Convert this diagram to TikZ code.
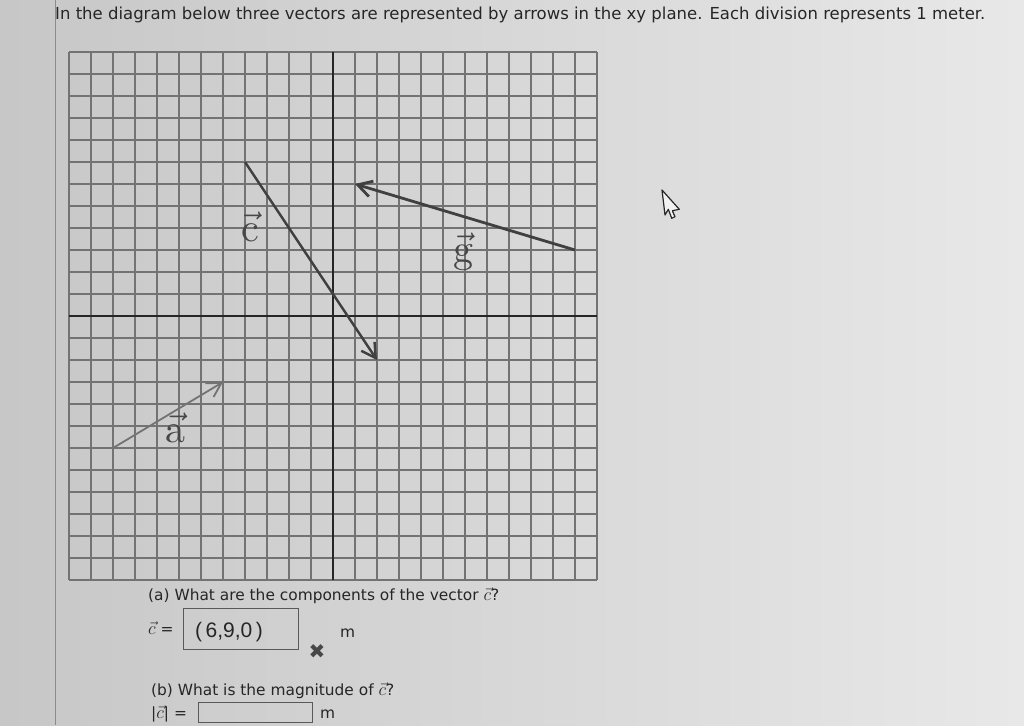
\documentclass[tikz,border=0pt]{standalone}
\usepackage{fontspec}
\usepackage{amsmath}
\usepackage{graphicx}
\usetikzlibrary{arrows.meta}
\newfontfamily\qfont{DejaVu Sans}
\newfontfamily\numfont{Liberation Sans}

\begin{document}
\begin{tikzpicture}[x=1pt,y=-1pt,
  gridline/.style={draw=black!55, line width=1.4pt},
  axis/.style={draw=black!85, line width=2pt},
  vec/.style={line width=2.4pt, draw=black!75, -{Straight Barb[length=14pt,width=16pt]}},
  qtext/.style={anchor=base west, inner sep=0pt, text=black!85, font=\qfont\fontsize{15.4}{18}\selectfont},
  ansbox/.style={draw=black!65, line width=0.9pt, anchor=north west, inner sep=0pt},
  veclabel/.style={text=black!72, inner sep=0pt}]

\fill[left color=black!22, right color=black!9] (0,0) rectangle (1024,725);
\useasboundingbox (0,0) rectangle (1024,725);
\draw[black!45, line width=1pt] (55,0) -- (55,725);

\begin{scope}[shift={(333,316)}, x=22pt, y=22pt]

\node[coordinate] (v0) at (0,0) {};
\node[coordinate] (v1) at (-12,0) {};
\node[coordinate] (v2) at (12,0) {};
\node[coordinate] (v3) at (0,-12) {};
\node[coordinate] (v4) at (0,12) {};

\draw [gridline, step=1] (-12,-12) grid (12,12);
\draw [axis] (v1)--(v2);
\draw [axis] (v3)--(v4);

\node[coordinate] (c0) at (-4,7) {};
\node[coordinate] (c1) at (2,-2) {};
\node[coordinate] (g0) at (11,3) {};
\node[coordinate] (g1) at (1,6) {};
\node[coordinate] (a0) at (-10,-6) {};
\node[coordinate] (a1) at (-5,-3) {};

\draw [vec] (c0)--(c1);
\draw [vec, line width=2.8pt] (g0)--(g1);
\draw [vec, draw=black!55, line width=1.8pt] (a0)--(a1);

\node [veclabel] (cl) at (-3.77,4.05) {\scalebox{4}{$\vec{\mathrm{c}}$}};
\node [veclabel] (gl) at (5.91,2.91) {\scalebox{4}{$\vec{\mathrm{g}}$}};
\node [veclabel] (al) at (-7.16,-5.09) {\scalebox{4}{$\vec{\mathrm{a}}$}};

\end{scope}

\draw[black!85, line width=1.2pt, line join=round, fill=black!5] (662,190) -- (665,215) -- (668.3,209.3) -- (671.7,218.3) -- (675,216.7) -- (672.3,210.7) -- (679.3,209.3) -- cycle;

\node [qtext] (title) at (55,20) {\fontsize{16.5}{19}\selectfont In the diagram below three vectors are represented by arrows in the xy plane. Each division represents 1 meter.};

\node [qtext] (qa) at (148,600) {(a) What are the components of the vector \scalebox{1.25}{$\vec{c}$}?};
\node [qtext] (ceq) at (148,634) {\scalebox{1.25}{$\vec{c}$} =};
\node [ansbox, minimum width=115pt, minimum height=41pt] (box1) at (183,608) {};
\node [anchor=base west, inner sep=0pt, text=black!85, font=\numfont\fontsize{21}{24}\selectfont] (ans) at (195,637) {(\,6,9,0\,)};
\node [qtext] (unit1) at (340,637) {m};
\node [text=black!72, inner sep=0pt, font=\qfont\fontsize{20}{20}\selectfont] (wrong) at (317,652) {✖};

\node [qtext] (qb) at (151,695) {(b) What is the magnitude of \scalebox{1.25}{$\vec{c}$}?};
\node [qtext] (ceq2) at (151,718) {|\scalebox{1.25}{$\vec{c}$}| =};
\node [ansbox, minimum width=114pt, minimum height=20pt] (box2) at (198,702) {};
\node [qtext] (unit2) at (320,718) {m};

\end{tikzpicture}
\end{document}
